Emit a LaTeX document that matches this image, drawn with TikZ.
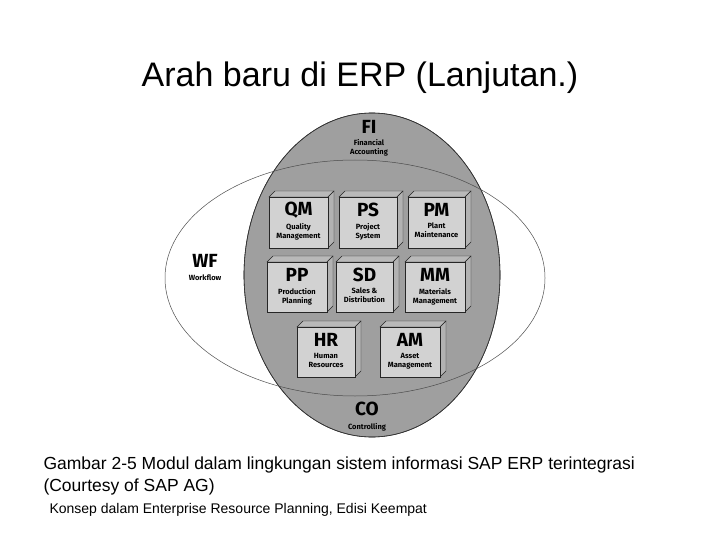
\documentclass[tikz,border=0pt]{standalone}
\usepackage{fontspec}
\setmainfont{Liberation Sans}
\newfontfamily\bx{Fira Sans}
\begin{document}
\begin{tikzpicture}[x=1pt,y=-1pt,
  mod/.style={font=\bx\bfseries\fontsize{7.5}{9}\selectfont,align=center,text=black,inner sep=0pt},
  big/.style={font=\bx\bfseries\fontsize{19}{20}\selectfont,text=black,inner sep=0pt}]
\useasboundingbox (0,0) rectangle (720,540);
\fill[gray!75!black!60!white,draw=gray!40!black,line width=0.6pt] (372,275) ellipse [x radius=128,y radius=162];
\draw[gray!60!black,line width=0.5pt] (355,278) ellipse [x radius=190,y radius=118];
\draw[gray!40!black,line width=0.6pt] (372,275) ellipse [x radius=128,y radius=162];
\newcommand\modbox[7]{%
  \fill[gray!55!white,draw=gray!30!black,line width=0.4pt] (#1,#2)--++(6,-6)--++(#3-#1,0)--++(-6,6)--cycle;
  \fill[gray!60!white,draw=gray!30!black,line width=0.4pt] (#3,#2)--++(6,-6)--++(0,#4-#2)--++(-6,6)--cycle;
  \fill[gray!35!white,draw=gray!30!black,line width=0.4pt] (#1,#2) rectangle (#3,#4);
  \node[big] (#5) at ({(#1+#3)/2},#2+13) {#6};
  \node[mod,anchor=north] at ({(#1+#3)/2},#2+26) {#7};}
\modbox{269}{197}{328}{248}{qm}{QM}{Quality\\Management}
\modbox{339}{197}{397}{248}{ps}{PS}{Project\\System}
\modbox{408}{197}{465}{248}{pm}{PM}{Plant\\Maintenance}
\modbox{267}{262}{327}{312}{pp}{PP}{Production\\Planning}
\modbox{336}{262}{393}{312}{sd}{SD}{Sales \&\\Distribution}
\modbox{405}{262}{465}{312}{mmb}{MM}{Materials\\Management}
\modbox{297}{327}{355}{377}{hr}{HR}{Human\\Resources}
\modbox{380}{327}{440}{377}{amb}{AM}{Asset\\Management}
\node[big] (fi) at (369,127) {FI};
\node[mod] (fit) at (369,148) {Financial\\Accounting};
\node[big] (co) at (367,409) {CO};
\node[mod] (cot) at (367,427) {Controlling};
\node[big] (wf) at (205,261) {WF};
\node[mod] (wft) at (205,278) {Workflow};
\node[font=\fontsize{34}{40}\selectfont] (title) at (360,78) {Arah baru di ERP (Lanjutan.)};
\node[font=\fontsize{17.5}{22}\selectfont,align=left,anchor=north west] (cap) at (40,453) {Gambar 2-5 Modul dalam lingkungan sistem informasi SAP ERP terintegrasi\\(Courtesy of SAP AG)};
\node[font=\fontsize{14}{16}\selectfont,anchor=west] (foot) at (46,510) {Konsep dalam Enterprise Resource Planning, Edisi Keempat};
\end{tikzpicture}
\end{document}
